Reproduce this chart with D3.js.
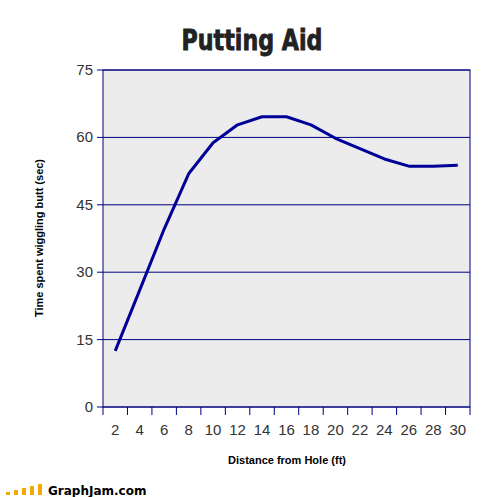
<!DOCTYPE html><html><head><script src="https://cdn.jsdelivr.net/npm/d3@7"></script>
<style>body{margin:0;background:#fff}</style></head><body><svg id="c" width="504" height="497"></svg><script>
const categories=[2,4,6,8,10,12,14,16,18,20,22,24,26,28,30];
const values=[12.5,26,39.6,51.9,58.8,62.8,64.6,64.6,62.8,59.8,57.5,55.2,53.6,53.6,53.8];
const yTicks=[0,15,30,45,60,75];
const svg=d3.select("#c");
const L=103,R=470,T=70,B=407;
const x=d3.scaleBand().domain(categories).range([L,R]);
const y=d3.scaleLinear().domain([0,75]).range([B,T]);
svg.append("rect").attr("x",L).attr("y",T).attr("width",R-L).attr("height",B-T).attr("fill","#ececec").attr("stroke","#000080");
svg.append("g").selectAll("line").data(yTicks).join("line").attr("x1",L-6).attr("x2",R).attr("y1",d=>y(d)).attr("y2",d=>y(d)).attr("stroke","#000080");
svg.append("g").selectAll("text").data(yTicks).join("text").attr("x",L-10).attr("y",d=>y(d)+5).attr("text-anchor","end").attr("font-family","Liberation Sans, Arial").attr("font-size",15).attr("fill","#333").text(d=>d);
const xt=categories.map(c=>x(c)).concat([R]);
svg.append("g").selectAll("line").data(xt).join("line").attr("x1",d=>d).attr("x2",d=>d).attr("y1",B).attr("y2",B+8).attr("stroke","#000080");
svg.append("g").selectAll("text").data(categories).join("text").attr("x",d=>x(d)+x.bandwidth()/2).attr("y",B+28).attr("text-anchor","middle").attr("font-family","Liberation Sans, Arial").attr("font-size",15).attr("fill","#333").text(d=>d);
svg.append("path").datum(values).attr("fill","none").attr("stroke","#000099").attr("stroke-width",3).attr("stroke-linejoin","round")
 .attr("d",d3.line().x((d,i)=>x(categories[i])+x.bandwidth()/2).y(d=>y(d)));
svg.append("text").attr("x",252).attr("y",50).attr("text-anchor","middle").attr("font-family","DejaVu Sans Condensed, Liberation Sans Narrow, sans-serif").attr("font-weight","bold").attr("font-size",29).attr("fill","#222").attr("stroke","#222").attr("stroke-width",0.8).attr("transform","translate(252,0) scale(0.85,1) translate(-252,0)").text("Putting Aid");
svg.append("text").attr("x",287).attr("y",464).attr("text-anchor","middle").attr("font-family","Liberation Sans, Arial").attr("font-weight","bold").attr("font-size",11).text("Distance from Hole (ft)");
svg.append("text").attr("transform","translate(43,238) rotate(-90)").attr("text-anchor","middle").attr("font-family","Liberation Sans, Arial").attr("font-weight","bold").attr("font-size",11).text("Time spent wiggling butt (sec)");
const bars=[3,5,7,9,11];
svg.append("g").selectAll("rect").data(bars).join("rect").attr("x",(d,i)=>6+i*8).attr("y",d=>495-d).attr("width",4).attr("height",d=>d).attr("fill","#f5a800");
svg.append("text").attr("x",48).attr("y",495).attr("font-family","DejaVu Sans, sans-serif").attr("font-weight","bold").attr("font-size",12).text("GraphJam.com");
</script></body></html>
